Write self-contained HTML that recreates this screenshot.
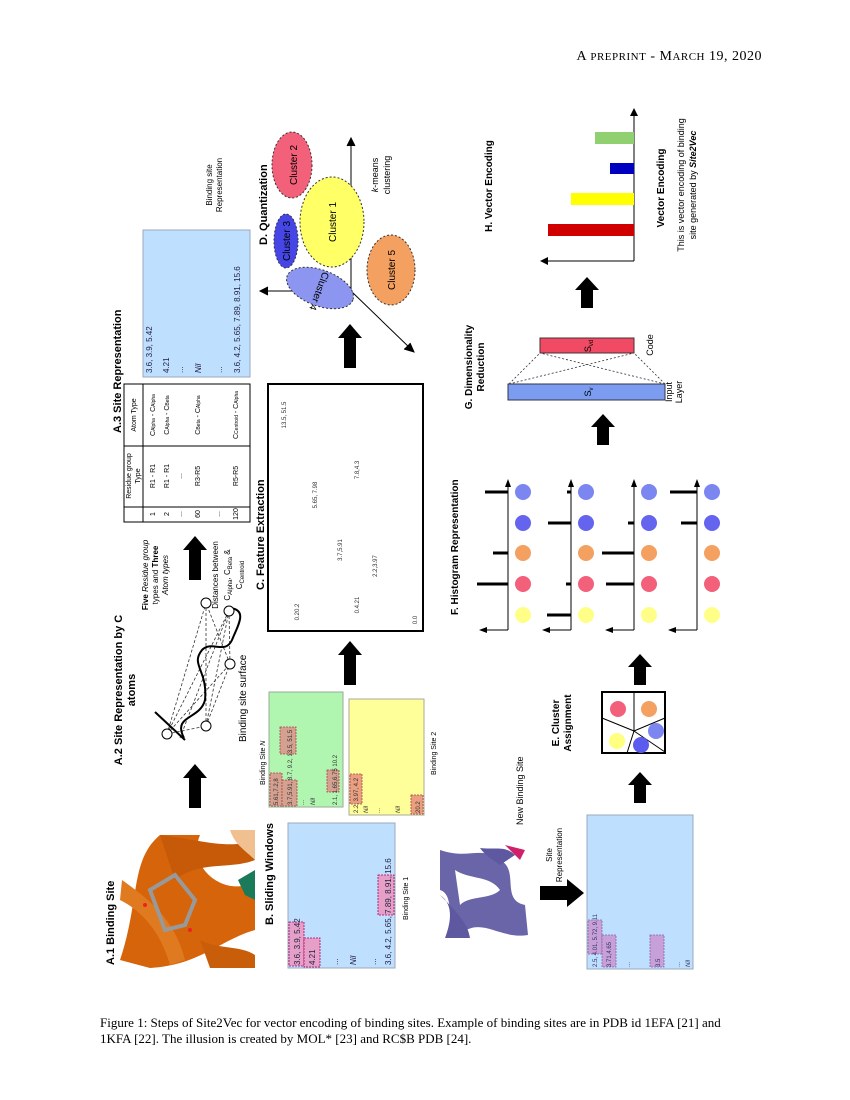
<!DOCTYPE html>
<html><head><meta charset="utf-8"><style>
html,body{margin:0;padding:0;background:#fff}
svg{display:block}
text{font-family:"Liberation Sans",sans-serif}
.s{font-family:"Liberation Serif",serif}
.b{font-weight:bold}
</style></head><body>
<svg width="850" height="1100" viewBox="0 0 850 1100" xmlns="http://www.w3.org/2000/svg">
<defs>
<path id="up" d="M-12,0 L0,-14 L12,0 L6,0 L6,30 L-6,30 L-6,0 Z"/>
<path id="up2" d="M-12,0 L0,-13 L12,0 L6,0 L6,18 L-6,18 L-6,0 Z"/>
</defs>
<!-- header -->
<text class="s" x="762" y="60" font-size="14" text-anchor="end" letter-spacing="0.5">A <tspan font-size="11">PREPRINT</tspan> - M<tspan font-size="11">ARCH</tspan> 19, 2020</text>

<!-- caption -->
<text class="s" x="100" y="1027" font-size="13">Figure 1: Steps of Site2Vec for vector encoding of binding sites. Example of binding sites are in PDB id 1EFA [21] and</text>
<text class="s" x="100" y="1043" font-size="13">1KFA [22]. The illusion is created by MOL* [23] and RC$B PDB [24].</text>

<!-- ===== A.1 ===== -->
<text class="b" font-size="11" transform="translate(114,965) rotate(-90)">A.1 Binding Site</text>
<g>
<rect x="117" y="830" width="138" height="140" fill="#fff"/>
<path d="M120,960 C140,900 130,860 160,835 L200,835 C185,870 230,900 255,880 L255,930 C220,940 200,965 150,968 Z" fill="#d5640a"/>
<path d="M160,835 C200,840 230,850 255,840 L255,860 C230,870 200,860 175,880 Z" fill="#c65a08"/>
<path d="M122,880 C150,900 175,920 185,960 L170,965 C160,930 140,910 120,900 Z" fill="#e07a20"/>
<path d="M200,940 C220,950 240,945 255,955 L255,968 L210,968 Z" fill="#c95e0a"/>
<path d="M230,830 L255,830 L255,860 C245,850 235,845 230,830 Z" fill="#f0c090"/>
<path d="M238,880 L255,870 L255,900 L245,895 Z" fill="#1a7a5a"/>
<path d="M150,890 L175,875 L195,900 L185,925 L165,930 Z" fill="none" stroke="#999" stroke-width="4"/>
<circle cx="190" cy="930" r="2" fill="#e22"/><circle cx="145" cy="905" r="2" fill="#e22"/>
</g>
<use href="#up" x="195" y="778" fill="#000"/>

<!-- ===== A.2 ===== -->
<text class="b" font-size="11" text-anchor="middle" transform="translate(122,690) rotate(-90)">A.2 Site Representation by C</text>
<text class="b" font-size="11" text-anchor="middle" transform="translate(135,690) rotate(-90)">atoms</text>
<g stroke="#333" stroke-width="0.8" stroke-dasharray="3,2" fill="none">
<line x1="167" y1="734" x2="206" y2="603"/><line x1="167" y1="734" x2="229" y2="611"/>
<line x1="167" y1="734" x2="230" y2="664"/><line x1="167" y1="734" x2="206" y2="726"/>
<line x1="206" y1="726" x2="206" y2="603"/><line x1="206" y1="726" x2="229" y2="611"/>
<line x1="230" y1="664" x2="206" y2="603"/><line x1="230" y1="664" x2="229" y2="611"/>
<line x1="206" y1="726" x2="230" y2="664"/><line x1="180" y1="738" x2="229" y2="611"/>
</g>
<line x1="155" y1="712" x2="185" y2="740" stroke="#000" stroke-width="2"/>
<path d="M184,738 C172,715 200,720 205,700 C208,670 190,665 202,650 C212,640 225,655 232,640 C238,625 248,610 230,608" fill="none" stroke="#000" stroke-width="2"/>
<g fill="#fff" stroke="#000" stroke-width="1"><circle cx="167" cy="734" r="5"/><circle cx="206" cy="726" r="5"/><circle cx="230" cy="664" r="5"/><circle cx="229" cy="611" r="5"/><circle cx="206" cy="603" r="5"/></g>
<text font-size="10" transform="translate(246,742) rotate(-90)">Binding site surface</text>
<text font-size="8" text-anchor="middle" transform="translate(148,575) rotate(-90)"><tspan font-weight="bold">Five</tspan> <tspan font-style="italic">Residue group</tspan></text>
<text font-size="8" text-anchor="middle" transform="translate(158,575) rotate(-90)">types and <tspan font-weight="bold">Three</tspan></text>
<text font-size="8" text-anchor="middle" font-style="italic" transform="translate(168,575) rotate(-90)">Atom types</text>
<text font-size="8" text-anchor="middle" transform="translate(218,575) rotate(-90)">Distances between</text>
<text font-size="8" text-anchor="middle" transform="translate(230,575) rotate(-90)">C<tspan font-size="6" dy="2">Alpha</tspan><tspan dy="-2">, C</tspan><tspan font-size="6" dy="2">Beta</tspan><tspan dy="-2"> &amp;</tspan></text>
<text font-size="8" text-anchor="middle" transform="translate(242,575) rotate(-90)">C<tspan font-size="6" dy="2">Centroid</tspan></text>
<use href="#up" x="195" y="550" fill="#000"/>

<!-- ===== A.3 table ===== -->
<text class="b" font-size="11" transform="translate(121,433) rotate(-90)">A.3 Site Representation</text>
<rect x="124" y="384" width="126" height="138" fill="#fff" stroke="#000" stroke-width="1"/>
<line x1="143" y1="384" x2="143" y2="522" stroke="#000"/>
<line x1="124" y1="446" x2="250" y2="446" stroke="#000"/>
<line x1="124" y1="507" x2="250" y2="507" stroke="#000"/>
<g font-size="7" text-anchor="middle">
<text transform="translate(131,476) rotate(-90)">Residue group</text>
<text transform="translate(140,476) rotate(-90)">Type</text>
<text transform="translate(136,415) rotate(-90)">Atom Type</text>
<text transform="translate(155,514) rotate(-90)">1</text><text transform="translate(169,514) rotate(-90)">2</text>
<text transform="translate(182,514) rotate(-90)">...</text><text transform="translate(200,514) rotate(-90)">60</text>
<text transform="translate(220,514) rotate(-90)">...</text><text transform="translate(238,514) rotate(-90)">120</text>
<text transform="translate(155,476) rotate(-90)">R1 - R1</text><text transform="translate(169,476) rotate(-90)">R1 - R1</text>
<text transform="translate(182,476) rotate(-90)">...</text><text transform="translate(200,476) rotate(-90)">R3-R5</text>
<text transform="translate(238,476) rotate(-90)">R5-R5</text>
<text transform="translate(155,415) rotate(-90)">C<tspan font-size="5">Alpha</tspan> - C<tspan font-size="5">Alpha</tspan></text>
<text transform="translate(169,415) rotate(-90)">C<tspan font-size="5">Alpha</tspan> - C<tspan font-size="5">Beta</tspan></text>
<text transform="translate(200,415) rotate(-90)">C<tspan font-size="5">Beta</tspan> - C<tspan font-size="5">Alpha</tspan></text>
<text transform="translate(238,415) rotate(-90)">C<tspan font-size="5">Centroid</tspan> - C<tspan font-size="5">Alpha</tspan></text>
</g>
<rect x="143" y="230" width="107" height="147" fill="#bfdfff" stroke="#9ab"/>
<g font-size="8" fill="#224">
<text transform="translate(152,373) rotate(-90)">3.6, 3.9, 5.42</text>
<text transform="translate(169,373) rotate(-90)">4.21</text>
<text transform="translate(183,373) rotate(-90)">...</text>
<text transform="translate(201,373) rotate(-90)" font-style="italic">Nil</text>
<text transform="translate(222,373) rotate(-90)">...</text>
<text transform="translate(240,373) rotate(-90)">3.6, 4.2, 5.65, 7.89, 8.91,  15.6</text>
</g>
<text font-size="8" text-anchor="middle" transform="translate(212,185) rotate(-90)">Binding site</text>
<text font-size="8" text-anchor="middle" transform="translate(222,185) rotate(-90)">Representation</text>

<!-- ===== B ===== -->
<text class="b" font-size="11" transform="translate(273,925) rotate(-90)">B. Sliding Windows</text>
<rect x="288" y="823" width="107" height="145" fill="#bfdfff" stroke="#9ab"/>
<g fill="#e6a0c8" stroke="#a06" stroke-dasharray="2,1" stroke-width="0.8">
<rect x="289" y="922" width="15" height="44"/><rect x="304" y="938" width="16" height="29"/><rect x="378" y="875" width="16" height="40"/></g>
<g font-size="8" fill="#224">
<text transform="translate(300,965) rotate(-90)">3.6, 3.9, 5.42</text>
<text transform="translate(315,965) rotate(-90)">4.21</text>
<text transform="translate(338,965) rotate(-90)">...</text>
<text transform="translate(356,965) rotate(-90)" font-style="italic">Nil</text>
<text transform="translate(376,965) rotate(-90)">...</text>
<text transform="translate(391,965) rotate(-90)">3.6, 4.2, 5.65, 7.89, 8.91,  15.6</text>
</g>
<text font-size="7" transform="translate(408,920) rotate(-90)">Binding Site 1</text>
<rect x="269" y="692" width="74" height="115" fill="#b0f5b0" stroke="#9a9"/>
<g fill="#d4a090" stroke="#a44" stroke-dasharray="2,1" stroke-width="0.8">
<rect x="270" y="773" width="12" height="33"/><rect x="282" y="780" width="15" height="26"/><rect x="280" y="727" width="16" height="27"/><rect x="327" y="770" width="12" height="22"/></g>
<g font-size="6" fill="#333">
<text transform="translate(278,805) rotate(-90)">5.61,7.2,8</text>
<text transform="translate(292,805) rotate(-90)">3.7,5.91, 8.7, 9.2, 13.5, 51.5</text>
<text transform="translate(304,805) rotate(-90)">...</text>
<text transform="translate(315,805) rotate(-90)" font-style="italic">Nil</text>
<text transform="translate(337,805) rotate(-90)">2.1, 1.65,6.75 10.2</text>
</g>
<text font-size="7" transform="translate(265,785) rotate(-90)">Binding Site <tspan font-style="italic">N</tspan></text>
<rect x="349" y="699" width="75" height="116" fill="#ffff99" stroke="#aa9"/>
<g fill="#eaa080" stroke="#a44" stroke-dasharray="2,1" stroke-width="0.8">
<rect x="350" y="774" width="12" height="30"/><rect x="411" y="795" width="12" height="19"/></g>
<g font-size="6" fill="#333">
<text transform="translate(358,813) rotate(-90)">2.2, 3.97, 4.2</text>
<text transform="translate(368,813) rotate(-90)" font-style="italic">Nil</text>
<text transform="translate(380,813) rotate(-90)">...</text>
<text transform="translate(400,813) rotate(-90)" font-style="italic">Nil</text>
<text transform="translate(420,813) rotate(-90)">20.2</text>
</g>
<text font-size="7" transform="translate(436,775) rotate(-90)">Binding Site 2</text>
<use href="#up" x="350" y="655" fill="#000"/>

<!-- ===== C ===== -->
<text class="b" font-size="11" transform="translate(264,590) rotate(-90)">C. Feature Extraction</text>
<rect x="268" y="384" width="155" height="247" fill="#fff" stroke="#000" stroke-width="2"/>
<g font-size="6" text-anchor="middle" fill="#333">
<text transform="translate(286,415) rotate(-90)">13.5, 51.5</text>
<text transform="translate(317,495) rotate(-90)">5.65, 7.98</text>
<text transform="translate(359,470) rotate(-90)">7.8,4.3</text>
<text transform="translate(342,550) rotate(-90)">3.7,5.91</text>
<text transform="translate(377,566) rotate(-90)">2.2,3.97</text>
<text transform="translate(299,612) rotate(-90)">0.20.2</text>
<text transform="translate(359,605) rotate(-90)">0.4.21</text>
<text transform="translate(417,620) rotate(-90)">0.0</text>
</g>
<use href="#up" x="350" y="338" fill="#000"/>

<!-- ===== D ===== -->
<text class="b" font-size="11" transform="translate(267,245) rotate(-90)">D. Quantization</text>
<g stroke="#000" stroke-width="1" fill="none">
<line x1="351" y1="291" x2="351" y2="140"/><path d="M347,146 L351,138 L355,146" fill="#000"/>
<line x1="351" y1="291" x2="262" y2="291"/><path d="M268,287 L260,291 L268,295" fill="#000"/>
<line x1="351" y1="291" x2="412" y2="350"/><path d="M404,349 L414,352 L410,343" fill="#000"/>
</g>
<g stroke="#333" stroke-dasharray="2,2" stroke-width="1">
<ellipse cx="292" cy="165" rx="20" ry="33" fill="#f2607a"/>
<ellipse cx="332" cy="222" rx="32" ry="45" fill="#ffff66"/>
<ellipse cx="286" cy="241" rx="12" ry="27" fill="#4646e6"/>
<ellipse cx="391" cy="270" rx="24" ry="35" fill="#f4a060"/>
<ellipse cx="320" cy="288" rx="35" ry="18" fill="#8c96f0" transform="rotate(20 320 288)"/>
</g>
<g font-size="10" text-anchor="middle">
<text transform="translate(297,165) rotate(-90)">Cluster 2</text>
<text transform="translate(336,222) rotate(-90)">Cluster 1</text>
<text transform="translate(290,241) rotate(-90)">Cluster 3</text>
<text transform="translate(395,270) rotate(-90)">Cluster 5</text>
<text transform="translate(316,290) rotate(110)">Cluster 4</text>
</g>
<text font-size="9" text-anchor="middle" transform="translate(378,175) rotate(-90)"><tspan font-style="italic">k</tspan>-means</text>
<text font-size="9" text-anchor="middle" transform="translate(390,175) rotate(-90)">clustering</text>

<!-- ===== New binding site ===== -->
<rect x="437" y="845" width="93" height="95" fill="#fff"/>
<path d="M440,850 C470,860 480,845 500,860 C520,870 500,900 525,905 L528,935 C500,940 480,915 460,935 C445,920 455,895 440,890 Z" fill="#6a64a8"/>
<path d="M440,895 C455,905 450,925 445,938 L470,938 C468,925 460,915 440,895 Z" fill="#5e58a0"/>
<path d="M480,848 C495,850 505,845 515,855 L500,865 C490,858 485,855 480,848 Z" fill="#5e58a0"/>
<path d="M455,870 C470,880 490,875 500,890 C490,900 470,895 460,905 Z" fill="#fff"/>
<path d="M505,845 L525,850 L520,860 Z" fill="#d0206a"/>
<text font-size="9" transform="translate(523,825) rotate(-90)">New Binding Site</text>
<path d="M540,886 L567,886 L567,879 L584,893 L567,907 L567,900 L540,900 Z" fill="#000"/>
<text font-size="8" text-anchor="middle" transform="translate(552,855) rotate(-90)">Site</text>
<text font-size="8" text-anchor="middle" transform="translate(562,855) rotate(-90)">Representation</text>
<rect x="587" y="815" width="106" height="154" fill="#bfdfff" stroke="#9ab"/>
<g fill="#c8a0d8" stroke="#86a" stroke-dasharray="2,1" stroke-width="0.8">
<rect x="588" y="920" width="14" height="34"/><rect x="602" y="935" width="14" height="32"/><rect x="650" y="935" width="14" height="32"/></g>
<g font-size="6" fill="#336">
<text transform="translate(597,967) rotate(-90)">2.5, 4.01, 5.72, 9.11</text>
<text transform="translate(611,967) rotate(-90)">3.71,4.65</text>
<text transform="translate(630,967) rotate(-90)">...</text>
<text transform="translate(660,967) rotate(-90)">3.5</text>
<text transform="translate(680,967) rotate(-90)">...</text>
<text transform="translate(690,967) rotate(-90)" font-style="italic">Nil</text>
</g>
<use href="#up2" x="640" y="785" fill="#000"/>

<!-- ===== E ===== -->
<text class="b" font-size="10" text-anchor="middle" transform="translate(559,723) rotate(-90)">E. Cluster</text>
<text class="b" font-size="10" text-anchor="middle" transform="translate(571,723) rotate(-90)">Assignment</text>
<rect x="602" y="692" width="63" height="61" fill="#fff" stroke="#000" stroke-width="2"/>
<g stroke="#000" stroke-width="1" fill="none">
<line x1="634" y1="692" x2="634" y2="731"/><line x1="602" y1="718" x2="634" y2="731"/>
<line x1="634" y1="731" x2="627" y2="753"/><line x1="634" y1="731" x2="665" y2="752"/>
<line x1="634" y1="731" x2="665" y2="718"/>
</g>
<circle cx="618" cy="709" r="8" fill="#f2607a"/><circle cx="649" cy="709" r="8" fill="#f4a060"/>
<circle cx="617" cy="741" r="8" fill="#ffff80"/><circle cx="641" cy="745" r="8" fill="#5b5bf0"/>
<circle cx="656" cy="731" r="8" fill="#7b86f0"/>
<use href="#up2" x="640" y="667" fill="#000"/>

<!-- ===== F ===== -->
<text class="b" font-size="10" transform="translate(458,615) rotate(-90)">F. Histogram Representation</text>
<g stroke="#000" fill="none" stroke-width="1">
<line x1="508" y1="630" x2="508" y2="483"/><line x1="508" y1="630" x2="482" y2="630"/>
<line x1="571" y1="630" x2="571" y2="483"/><line x1="571" y1="630" x2="545" y2="630"/>
<line x1="634" y1="630" x2="634" y2="483"/><line x1="634" y1="630" x2="608" y2="630"/>
<line x1="697" y1="630" x2="697" y2="483"/><line x1="697" y1="630" x2="671" y2="630"/>
</g>
<g fill="#000">
<path d="M505,487 L508,479 L511,487Z"/><path d="M568,487 L571,479 L574,487Z"/><path d="M631,487 L634,479 L637,487Z"/><path d="M694,487 L697,479 L700,487Z"/>
<path d="M487,627 L479,630 L487,633Z"/><path d="M550,627 L542,630 L550,633Z"/><path d="M613,627 L605,630 L613,633Z"/><path d="M676,627 L668,630 L676,633Z"/>
</g>
<g stroke="#000" stroke-width="3">
<line x1="485" y1="492" x2="508" y2="492"/><line x1="493" y1="553" x2="508" y2="553"/><line x1="477" y1="584" x2="508" y2="584"/>
<line x1="567" y1="492" x2="571" y2="492"/><line x1="548" y1="523" x2="571" y2="523"/><line x1="566" y1="584" x2="571" y2="584"/><line x1="547" y1="615" x2="571" y2="615"/>
<line x1="628" y1="523" x2="634" y2="523"/><line x1="602" y1="553" x2="634" y2="553"/><line x1="606" y1="584" x2="634" y2="584"/>
<line x1="670" y1="492" x2="697" y2="492"/><line x1="681" y1="523" x2="697" y2="523"/>
</g>
<g>
<g id="dots">
<circle cx="523" cy="492" r="8" fill="#7b86f0"/><circle cx="523" cy="523" r="8" fill="#6464ee"/><circle cx="523" cy="553" r="8" fill="#f4a060"/><circle cx="523" cy="584" r="8" fill="#f2607a"/><circle cx="523" cy="615" r="8" fill="#ffff88"/>
</g>
<use href="#dots" x="63"/><use href="#dots" x="126"/><use href="#dots" x="189"/>
</g>

<use href="#up2" x="603" y="427" fill="#000"/>

<!-- ===== G ===== -->
<text class="b" font-size="10" text-anchor="middle" transform="translate(472,367) rotate(-90)">G. Dimensionality</text>
<text class="b" font-size="10" text-anchor="middle" transform="translate(484,367) rotate(-90)">Reduction</text>
<g stroke="#333" stroke-dasharray="2,2" stroke-width="0.8">
<line x1="509" y1="384" x2="540" y2="353"/><line x1="509" y1="384" x2="634" y2="353"/>
<line x1="665" y1="384" x2="540" y2="353"/><line x1="665" y1="384" x2="634" y2="353"/>
</g>
<rect x="508" y="384" width="157" height="16" fill="#7b9cf0" stroke="#334" stroke-width="1"/>
<rect x="540" y="338" width="94" height="15" fill="#f04a64" stroke="#433" stroke-width="1"/>
<text font-size="9" text-anchor="middle" transform="translate(591,392) rotate(-90)">S<tspan font-size="6" dy="2">v</tspan></text>
<text font-size="9" text-anchor="middle" transform="translate(591,346) rotate(-90)">S<tspan font-size="6" dy="2">vd</tspan></text>
<text font-size="9" text-anchor="middle" transform="translate(672,392) rotate(-90)">Input</text>
<text font-size="9" text-anchor="middle" transform="translate(682,392) rotate(-90)">Layer</text>
<text font-size="9" text-anchor="middle" transform="translate(653,345) rotate(-90)">Code</text>
<use href="#up2" x="587" y="290" fill="#000"/>

<!-- ===== H ===== -->
<text class="b" font-size="10" text-anchor="middle" transform="translate(492,186) rotate(-90)">H. Vector Encoding</text>
<g stroke="#000" stroke-width="1" fill="none">
<line x1="634" y1="261" x2="634" y2="112"/><line x1="634" y1="261" x2="543" y2="261"/>
</g>
<path d="M630,116 L634,108 L638,116Z" fill="#000"/><path d="M548,257 L540,261 L548,265Z" fill="#000"/>
<rect x="548" y="224" width="86" height="12" fill="#d00000"/>
<rect x="571" y="193" width="63" height="12" fill="#ffff00"/>
<rect x="610" y="163" width="24" height="11" fill="#0000c0"/>
<rect x="595" y="132" width="39" height="12" fill="#90d070"/>
<text class="b" font-size="10" text-anchor="middle" transform="translate(664,188) rotate(-90)">Vector Encoding</text>
<text font-size="9" text-anchor="middle" transform="translate(684,185) rotate(-90)">This is vector encoding of binding</text>
<text font-size="9" text-anchor="middle" transform="translate(696,185) rotate(-90)">site generated by <tspan font-weight="bold" font-style="italic">Site2Vec</tspan></text>
</svg>
</body></html>
